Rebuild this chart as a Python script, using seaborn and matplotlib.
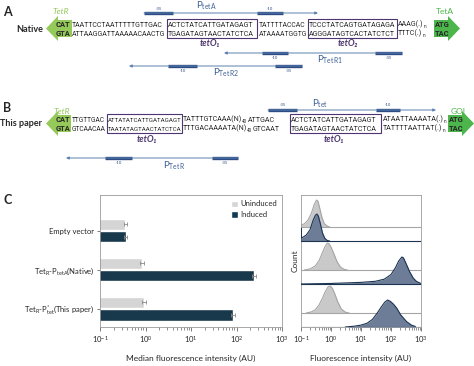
import numpy as np
import pandas as pd
import matplotlib
matplotlib.use('Agg')
import matplotlib.pyplot as plt
import seaborn as sns
from matplotlib import font_manager
from matplotlib.patches import Rectangle, Polygon, Patch
from matplotlib.ticker import LogLocator, NullFormatter

# ---- panel C, left: median fluorescence (AU)
constructs = ['Empty vector',
              r'Tet$_{\mathrm{R}}$-P$_{\mathrm{tetA}}$(Native)',
              r'Tet$_{\mathrm{R}}$-P$_{\mathrm{tet}}^{*}$(This paper)']
conditions = ['Uninduced', 'Induced']
median_uninduced = [0.36, 0.84, 0.93]
median_induced = [0.37, 240, 84]
err_uninduced = [0.03, 0.07, 0.08]
err_induced = [0.03, 25, 8]

# ---- panel C, right: flow histograms (intensity AU, relative count)
h1_x = [0.10, 0.13, 0.17, 0.22, 0.28, 0.33, 0.37, 0.42, 0.50, 0.60, 0.75, 0.90]
h1_y = [0.07, 0.12, 0.25, 0.50, 0.85, 1.00, 0.95, 0.70, 0.35, 0.12, 0.03, 0.00]
h2_x = [0.100, 0.100, 0.104, 0.12, 0.15, 0.20, 0.25, 0.30, 0.34, 0.38, 0.44, 0.52, 0.62, 0.75, 0.90]
h2_y = [0.00, 0.48, 0.12, 0.15, 0.22, 0.42, 0.75, 0.95, 1.00, 0.92, 0.65, 0.30, 0.10, 0.02, 0.00]
h3_x = [0.13, 0.20, 0.30, 0.40, 0.50, 0.62, 0.75, 0.85, 1.00, 1.25, 1.60, 2.10, 2.80, 3.50]
h3_y = [0.00, 0.04, 0.15, 0.35, 0.60, 0.85, 1.00, 0.98, 0.85, 0.60, 0.30, 0.10, 0.02, 0.00]
h4_x = [0.10, 1.0, 10, 30, 60, 100, 140, 180, 230, 260, 320, 420, 550, 700, 900, 1000]
h4_y = [0.00, 0.02, 0.06, 0.10, 0.18, 0.35, 0.60, 0.85, 1.00, 0.97, 0.75, 0.45, 0.22, 0.10, 0.04, 0.02]
h5_x = [0.15, 0.22, 0.30, 0.40, 0.52, 0.65, 0.80, 0.95, 1.10, 1.35, 1.70, 2.20, 3.00, 4.00]
h5_y = [0.00, 0.04, 0.12, 0.30, 0.55, 0.80, 0.97, 1.00, 0.92, 0.70, 0.40, 0.15, 0.03, 0.00]
h6_x = [3, 6, 10, 16, 24, 34, 48, 62, 77, 95, 120, 155, 210, 330, 480, 650]
h6_y = [0.00, 0.03, 0.07, 0.14, 0.28, 0.50, 0.75, 0.92, 1.00, 0.95, 0.85, 0.70, 0.45, 0.20, 0.07, 0.02]
hist_condition = ['Uninduced', 'Induced'] * 3

# ---- panels A/B: sequences ("|" toggles a subscript)
a_top = ['TAATTCCTAATTTTTGTTGAC', 'ACTCTATCATTGATAGAGT', 'TATTTTACCAC',
         'TCCCTATCAGTGATAGAGA', 'AAAG(.)|n']
a_bottom = ['ATTAAGGATTAAAAACAACTG', 'TGAGATAGTAACTATCTCA', 'ATAAAATGGTG',
            'AGGGATAGTCACTATCTCT', 'TTTC(.)|n']
b_top = ['TTGTTGAC', 'ATTATATCATTGATAGAGT', 'TATTTGTCAAA(N)|40|ATTGAC',
         'ACTCTATCATTGATAGAGT', 'ATAATTAAAATA(.)|n']
b_bottom = ['GTCAACAA', 'TAATATAGTAACTATCTCA', 'TTTGACAAAATA(N)|40|GTCAAT',
            'TGAGATAGTAACTATCTCA', 'TATTTTAATTAT(.)|n']


def pick_font(names):
    for n in names:
        try:
            font_manager.findfont(font_manager.FontProperties(family=n), fallback_to_default=False)
            return n
        except Exception:
            pass
    return 'DejaVu Sans'


sns.set_style('white')
LABEL_FONT = pick_font(['Lato', 'Open Sans', 'DejaVu Sans'])
SEQ_FONT = pick_font(['Liberation Sans Narrow', 'Roboto', 'Liberation Sans'])
plt.rcParams['font.family'] = [LABEL_FONT, 'DejaVu Sans']
plt.rcParams['mathtext.fontset'] = 'custom'
plt.rcParams['mathtext.rm'] = LABEL_FONT
plt.rcParams['mathtext.it'] = LABEL_FONT + ':italic'
plt.rcParams['mathtext.bf'] = LABEL_FONT + ':bold'

GRAY = '#d5d5d5'
NAVY = '#0f3b55'
PURPLE = '#4d3670'
LINE_BLUE = '#5c80ad'
BAR_BLUE = '#2c4c86'
TETR_GREEN = '#95c95a'
GENE_GREEN = '#4cb64c'

fig = plt.figure(figsize=(4.74, 3.66), dpi=100)
dg = fig.add_axes([0, 0, 1, 1])
dg.set_xlim(0, 474)
dg.set_ylim(366, 0)
dg.axis('off')
renderer = fig.canvas.get_renderer()


def draw_seq(x, y, s, fs, weight='normal'):
    """Draw a sequence piece by piece; returns the end x and the created texts."""
    made = []
    for k, piece in enumerate(s.split('|')):
        sub = k % 2 == 1
        t = dg.text(x, y + (1.6 if sub else 0), piece, fontsize=fs * (0.65 if sub else 1),
                    family=SEQ_FONT, weight=weight, va='baseline', zorder=3)
        made.append(t)
        x += t.get_window_extent(renderer=renderer).width + (0.4 if sub else 0)
    return x, made


def fit_size(s, width, weight='normal'):
    end, made = draw_seq(0, 0, s, 10, weight)
    for t in made:
        t.remove()
    return 10 * width / end


SEQ_FS = fit_size(a_top[0], 94)


def gene_arrow(x_tail, x_tip, yc, color, head=12, hb=17, hh=25):
    d = np.sign(x_tip - x_tail)
    neck = x_tip - d * head
    pts = [(x_tail, yc - hb / 2), (neck, yc - hb / 2), (neck, yc - hh / 2), (x_tip, yc),
           (neck, yc + hh / 2), (neck, yc + hb / 2), (x_tail, yc + hb / 2)]
    dg.add_patch(Polygon(pts, closed=True, fc=color, ec='none', zorder=1))


def seq_rows(top, bottom, spans, y1, y2, boxes, box_y):
    for (s, e), t, b in zip(spans, top, bottom):
        fs = min(fit_size(t, e - s), fit_size(b, e - s), SEQ_FS)
        draw_seq(s, y1 + 2.6, t, fs)
        draw_seq(s, y2 + 2.6, b, fs)
    for x0, x1 in boxes:
        dg.add_patch(Rectangle((x0, box_y[0]), x1 - x0, box_y[1] - box_y[0],
                               fill=False, ec=PURPLE, lw=0.8, zorder=4))


def codon(x, y1, y2, top, bottom, width=15):
    fs = min(fit_size(top, width, 'bold'), SEQ_FS * 1.05)
    draw_seq(x, y1 + 2.6, top, fs, 'bold')
    draw_seq(x, y2 + 2.6, bottom, fs, 'bold')


def promoter(x_start, x_end, y, bars, lab_dy, name, name_xy):
    dg.annotate('', xy=(x_end, y), xytext=(x_start, y),
                arrowprops=dict(arrowstyle='-|>', lw=0.7, color=LINE_BLUE,
                                mutation_scale=4, shrinkA=0, shrinkB=0))
    for b0, b1, lab in bars:
        dg.plot([b0, b1], [y, y], lw=2.4, color=BAR_BLUE, solid_capstyle='butt')
        dg.text((b0 + b1) / 2, y + lab_dy, lab, fontsize=3, color=BAR_BLUE, ha='center', va='center')
    dg.text(name_xy[0], name_xy[1], name, fontsize=7, color='#3d5f94', ha='center', va='center')


# ---- panel A
dg.text(3, 12, 'A', fontsize=9, weight='bold', va='center')
dg.text(43, 29, 'Native', fontsize=6.5, weight='bold', ha='right', va='center')
gene_arrow(72, 46, 28.5, TETR_GREEN)
gene_arrow(434, 460, 28.5, GENE_GREEN)
dg.text(61, 11.5, 'TetR', fontsize=6, style='italic', color=TETR_GREEN, ha='center', va='center')
dg.text(445, 12, 'TetA', fontsize=6, color=GENE_GREEN, ha='center', va='center')
codon(56, 24, 33, 'CAT', 'GTA')
codon(435, 24, 33, 'ATG', 'TAC')
seq_rows(a_top, a_bottom, [(72, 166), (168, 256), (259, 307), (309, 396), (398, 432)],
         24, 33, [(167, 257), (308, 397)], (19, 38))
for xc, lab in [(210, 'tetO₁'), (348, 'tetO₂')]:
    dg.text(xc, 43.5, lab, fontsize=6.5, style='italic', weight='bold', color=PURPLE,
            ha='center', va='center', family=[LABEL_FONT, 'DejaVu Sans'])
promoter(144, 318, 13, [(144, 173, '-35'), (257, 283, '-10')], -4.5,
         r'P$_{\mathrm{tetA}}$', (206, 6))
promoter(402, 224, 53, [(262, 288, '-10'), (375, 402, '-35')], 5,
         r'P$_{\mathrm{TetR1}}$', (330, 60))
promoter(302, 129, 66, [(168, 197, '-10'), (275, 302, '-35')], 5,
         r'P$_{\mathrm{TetR2}}$', (226, 73))

# ---- panel B
dg.text(3, 108, 'B', fontsize=9, weight='bold', va='center')
dg.text(42, 123.5, 'This paper', fontsize=6.5, weight='bold', ha='right', va='center')
gene_arrow(71, 46, 123.5, TETR_GREEN)
gene_arrow(448, 474, 123.5, GENE_GREEN)
dg.text(62, 111, 'TetR', fontsize=6, style='italic', color=TETR_GREEN, ha='center', va='center')
dg.text(458, 112, 'GOI', fontsize=6, color=GENE_GREEN, ha='center', va='center')
codon(56, 119, 128, 'CAT', 'GTA')
codon(449, 119, 128, 'ATG', 'TAC')
seq_rows(b_top, b_bottom, [(72, 106), (108, 181), (183, 289), (291, 380), (383, 447)],
         119, 128, [(107, 182), (290, 381)], (114, 133))
for xc in [147, 334]:
    dg.text(xc, 139.5, 'tetO₁', fontsize=6.5, style='italic', weight='bold', color=PURPLE,
            ha='center', va='center', family=[LABEL_FONT, 'DejaVu Sans'])
promoter(268, 436, 110, [(268, 297, '-35'), (376, 400, '-10')], -4.5,
         r'P$_{\mathrm{tet}}$', (320, 104))
promoter(238, 66, 158, [(105, 132, '-10'), (212, 238, '-35')], 5,
         r'P$_{\mathrm{TetR}}$', (174, 166))

# ---- panel C
dg.text(4, 200, 'C', fontsize=9, weight='bold', va='center')

bars = pd.DataFrame({
    'construct': constructs * 2,
    'condition': [conditions[0]] * 3 + [conditions[1]] * 3,
    'mfi': median_uninduced + median_induced,
})
ax = fig.add_axes([100 / 474, 39 / 366, 182 / 474, 132 / 366])
sns.barplot(data=bars, y='construct', x='mfi', hue='condition', orient='h',
            palette=[GRAY, NAVY], width=0.64, gap=0.1, errorbar=None,
            legend=False, ax=ax)
ax.set_xscale('log')
errs = err_uninduced + err_induced
for p, e in zip(ax.patches[:6], errs):
    ax.errorbar(p.get_x() + p.get_width(), p.get_y() + p.get_height() / 2, xerr=e,
                fmt='none', ecolor='#8a8a8a', elinewidth=0.6, capsize=1.4, capthick=0.6)
ax.set_xlim(0.1, 1000)
ax.set_ylim(2.47, -0.91)
ax.set_ylabel('')
ax.set_xlabel('Median fluorescence intensity (AU)', fontsize=6, labelpad=7)
ax.xaxis.set_major_locator(LogLocator(base=10, numticks=10))
ax.xaxis.set_minor_locator(LogLocator(base=10, subs=np.arange(2, 10), numticks=10))
ax.xaxis.set_minor_formatter(NullFormatter())
ax.tick_params(axis='x', which='major', direction='out', length=3, width=0.6, color='#666',
               labelsize=5.5, pad=2, bottom=True)
ax.tick_params(axis='x', which='minor', direction='out', length=1.8, width=0.5, color='#666', bottom=True)
ax.tick_params(axis='y', direction='out', length=2.5, width=0.6, color='#666', labelsize=5.5, pad=1.5, left=True)
for s in ax.spines.values():
    s.set_color('#9a9a9a')
    s.set_linewidth(0.6)
ax.legend(handles=[Patch(fc=GRAY, label='Uninduced'), Patch(fc=NAVY, label='Induced')],
          loc='upper right', frameon=False, fontsize=5.5, handlelength=0.9, handleheight=0.9,
          handletextpad=0.3, labelspacing=0.5, borderaxespad=0.3)

# ridge histograms
ax2 = fig.add_axes([301 / 474, 39 / 366, 120 / 474, 132 / 366])
ridges = [(h1_x, h1_y), (h2_x, h2_y), (h3_x, h3_y), (h4_x, h4_y), (h5_x, h5_y), (h6_x, h6_y)]
offsets = [100, 86, 57, 43, 14, 0]
peak = 27
style = {'Uninduced': ('#c9c9c9', '#a5a5a5'), 'Induced': ('#6d7c97', '#1b3452')}
for i, ((xs, ys), cond, off) in enumerate(zip(ridges, hist_condition, offsets)):
    fill, line = style[cond]
    d = pd.DataFrame({'intensity': xs, 'count': off + peak * np.array(ys)})
    ax2.fill_between(d['intensity'], off, d['count'], color=fill, lw=0, zorder=2 + i)
    sns.lineplot(data=d, x='intensity', y='count', estimator=None, sort=False,
                 color=line, lw=0.8, ax=ax2, zorder=2.5 + i)
    ax2.axhline(off, color=line, lw=0.8, zorder=2.5 + i)
ax2.set_xscale('log')
ax2.set_xlim(0.1, 1000)
ax2.set_ylim(0, 132)
ax2.set_yticks([])
ax2.set_ylabel('Count', fontsize=6, labelpad=2)
ax2.set_xlabel('Fluorescence intensity (AU)', fontsize=6, labelpad=7)
ax2.xaxis.set_major_locator(LogLocator(base=10, numticks=10))
ax2.xaxis.set_minor_locator(LogLocator(base=10, subs=np.arange(2, 10), numticks=10))
ax2.xaxis.set_minor_formatter(NullFormatter())
ax2.tick_params(axis='x', which='major', direction='out', length=3, width=0.6, color='#666',
                labelsize=5.5, pad=2, bottom=True)
ax2.tick_params(axis='x', which='minor', direction='out', length=1.8, width=0.5, color='#666', bottom=True)
for s in ax2.spines.values():
    s.set_color('#9a9a9a')
    s.set_linewidth(0.6)

fig.savefig('out.png', dpi=100)
